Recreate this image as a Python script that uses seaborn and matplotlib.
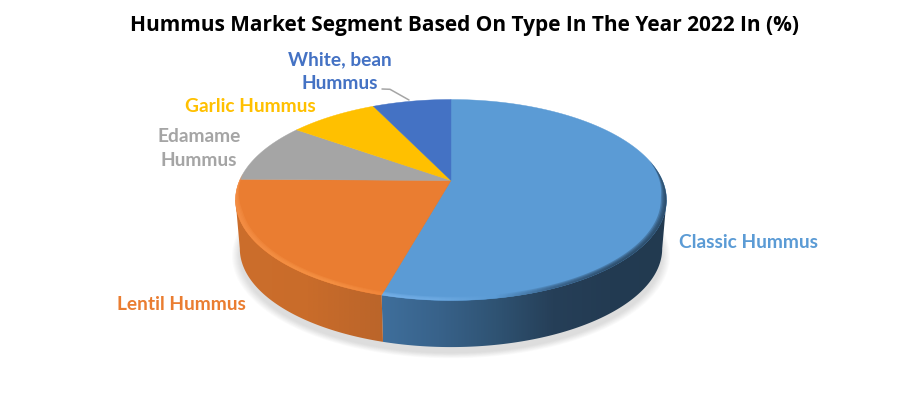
"""Hummus market segments, drawn as a tilted 3D pie with a perspective rim."""
import numpy as np
import matplotlib
matplotlib.use("Agg")
import matplotlib.pyplot as plt
from matplotlib.colors import ListedColormap
from matplotlib.patches import Polygon
import seaborn as sns

CATEGORIES = ["Classic Hummus", "Lentil Hummus", "Edamame\nHummus", "Garlic Hummus", "White, bean\nHummus"]
SHARES = [54.3, 20.9, 9.7, 8.0, 7.1]
COLORS = ["#5b9bd5", "#ea7d31", "#a5a5a5", "#ffc000", "#4472c4"]
TITLE = "Hummus Market Segment Based On Type In The Year 2022 In (%)"

# pie geometry in pixels
CX, CY = 451, 180.5
RX, RY, PERSP = 211.4, 96.7, 0.194
DEPTH, SHRINK = 49.0, 0.98
# angle where the rim is widest on screen, the silhouette of the wall starts there
WIDEST = 90 + np.degrees(np.arcsin(PERSP))

sns.set_theme(style="white")
plt.rcParams["font.family"] = ["Open Sans", "DejaVu Sans"]


def project(theta, r=1.0, shrink=1.0, drop=0.0):
    # theta in degrees, clockwise from twelve o'clock
    t = np.radians(theta)
    u, v = r * np.sin(t), r * np.cos(t)
    w = 1 + PERSP * v
    return np.column_stack([CX + shrink * RX * u / w, CY - shrink * RY * v / w + drop])


def x_gradient(ax, stops, clip, zorder, alpha=1.0):
    # horizontal colour ramp across the clip polygon, left stop to right stop
    x0, x1 = clip[:, 0].min() - 1, clip[:, 0].max() + 1
    y0, y1 = clip[:, 1].min() - 1, clip[:, 1].max() + 1
    cmap = ListedColormap(sns.blend_palette(stops, 256))
    img = ax.imshow(np.linspace(0, 1, 512)[None, :], cmap=cmap, extent=(x0, x1, y1, y0), aspect="auto",
                    interpolation="bilinear", alpha=alpha, zorder=zorder)
    patch = Polygon(clip, transform=ax.transData, fc="none", ec="none")
    ax.add_patch(patch)
    img.set_clip_path(patch)


edges = np.concatenate([[0], np.cumsum(SHARES)]) / sum(SHARES) * 360

fig = plt.figure(figsize=(9, 4.09), dpi=100)
ax = fig.add_axes([0, 0, 1, 1])

# soft shadow under the pie
ring = np.linspace(0, 360, 361)
for grow in np.linspace(1.035, 1.0, 9):
    ax.add_patch(Polygon(project(ring, grow, SHRINK, DEPTH + 6), fc="#909090", ec="none", alpha=0.035, zorder=1))

# side wall, shaded left to right
side_ramps = [
    (["#3f6f9c", "#38628a", "#2f5373", "#263f58", "#233b52", "#223a50"], WIDEST, edges[1]),
    (["#cc6e2c", "#c96c2a", "#bb652a", "#a85a20"], edges[1], 360 - WIDEST),
]
for stops, a, b in side_ramps:
    arc = np.linspace(a, b, 200)
    wall = np.vstack([[[CX, CY]], project(arc[:1]), project(arc, 1.0, SHRINK, DEPTH), project(arc[-1:])])
    x_gradient(ax, stops, wall, zorder=2)

# top face
for i, color in enumerate(COLORS):
    arc = np.linspace(edges[i], edges[i + 1], 200)
    pts = np.vstack([[[CX, CY]], project(arc)])
    ax.add_patch(Polygon(pts, fc=color, ec=color, lw=0.3, zorder=3))

# soft bevel along the front rim, narrowing to nothing at the far ends
rim_ramps = [
    (["#7ab4ec", "#72aee6", "#5b9bd5", "#34597d", "#26415a", "#26415a"], 78, edges[1], 1),
    (["#f6914a", "#f79447", "#f79447", "#f4893e"], edges[1], 274, -1),
]
for stops, a, b, side in rim_ramps:
    arc = np.linspace(a, b, 200)
    end = arc - a if side > 0 else b - arc
    taper = np.clip(end / 22, 0, 1)
    for width in (0.025, 0.019, 0.013, 0.007):
        inner = [project(t, 1 - width * k)[0] for t, k in zip(arc[::-1], taper[::-1])]
        band = np.vstack([project(arc), inner])
        x_gradient(ax, stops, band, zorder=4, alpha=0.36)

ax.set_xlim(0, 900)
ax.set_ylim(409, 0)
ax.axis("off")

# labels
ax.text(464, 25.5, TITLE, ha="center", va="center", fontsize=15.05, fontweight="bold", color="black", zorder=6)
label_pos = [(748.5, 243), (181, 305), (199, 148.5), (250, 107), (340, 71.5)]
for name, color, (x, y) in zip(CATEGORIES, COLORS, label_pos):
    ax.text(x, y, name, ha="center", va="center", fontsize=13.8, fontweight="bold", color=color,
            linespacing=1.5, family=["Lato", "DejaVu Sans"], zorder=6)
ax.plot([382, 390, 409], [89, 89.3, 100], color="#a5a5a5", lw=1.1, zorder=5)

fig.savefig("out.png", dpi=100)
plt.close(fig)
